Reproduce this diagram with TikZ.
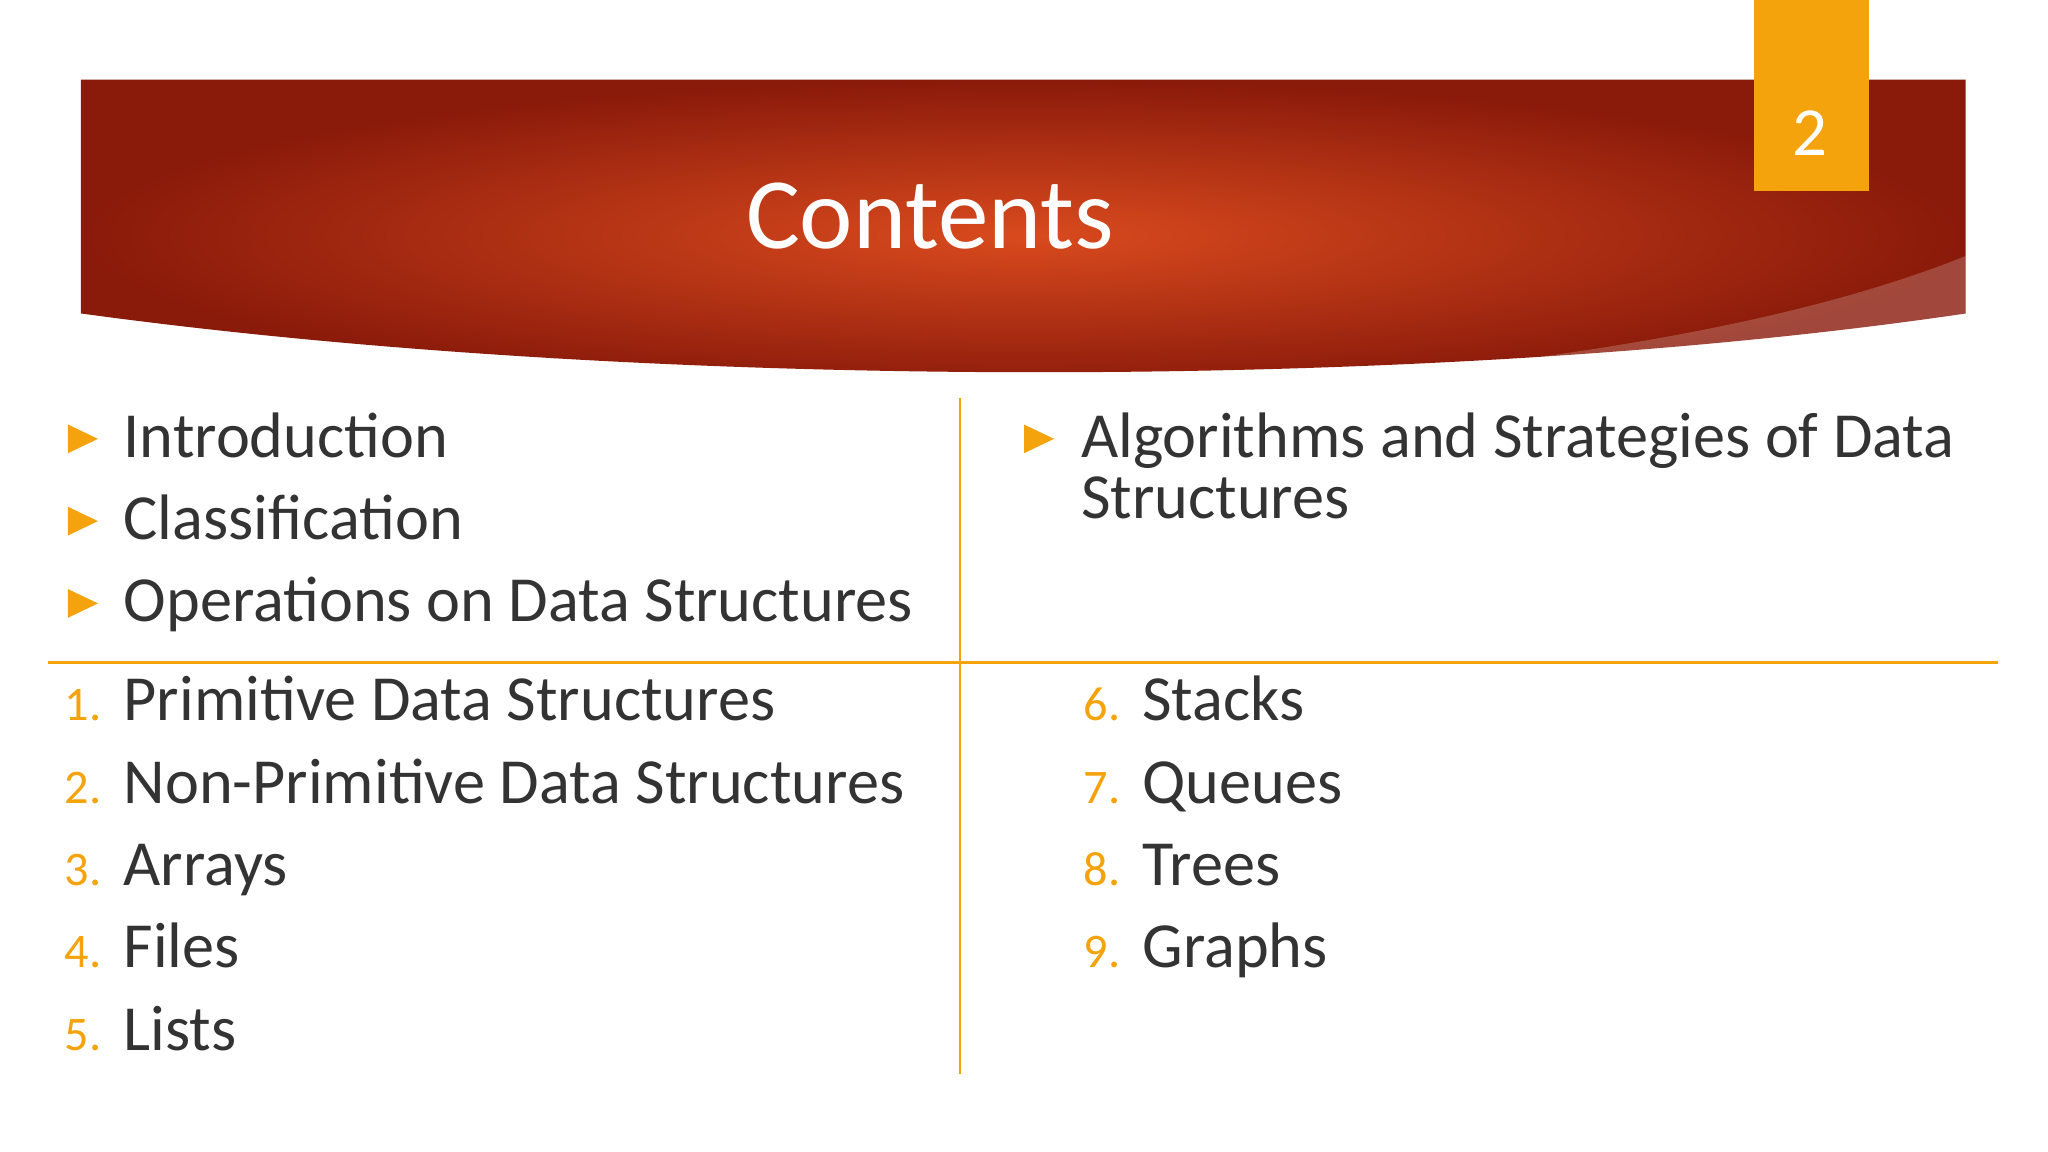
\documentclass[tikz,border=0pt]{standalone}
\usepackage{fontspec}
\setmainfont{Carlito}
\usetikzlibrary{positioning}
\definecolor{gold}{HTML}{F4A30C}
\definecolor{darkred}{HTML}{8A1A0A}
\definecolor{midred}{HTML}{D94A1E}
\definecolor{txt}{HTML}{333333}
\tikzset{
	bullet/.style = {gold, fill=gold},
	item/.style   = {anchor=base west, inner sep=0pt, font=\fontsize{14}{16}\selectfont, text=txt},
	num/.style    = {anchor=base west, inner sep=0pt, font=\fontsize{10.5}{12}\selectfont, text=gold},
	rule/.style   = {gold, line width=0.6pt}
}
\newcommand{\tri}[1]{\fill[bullet] (#1) ++(-11,-11) -- ++(23,11) -- ++(-23,11) -- cycle;}

\begin{document}
\begin{tikzpicture}[x=0.01cm, y=-0.01cm]
	\useasboundingbox (0,0) rectangle (1568,882);
	\fill[white] (0,0) rectangle (1568,882);
	% banner
	\shade[inner color=midred, outer color=darkred]
		(62,61) -- (1505,61) -- (1505,240) .. controls (1100,300) and (500,300) .. (62,240) -- cycle;
	\fill[white, opacity=0.2] (1505,196) -- (1505,240) .. controls (1400,258) and (1250,275) .. (1110,282) .. controls (1300,260) and (1420,230) .. cycle;
	\node[text=white, anchor=base, font=\fontsize{22}{24}\selectfont] (title) at (712,190) {Contents};
	% page number
	\fill[gold] (1343,0) rectangle (1431,146);
	\node[text=white, anchor=base, font=\fontsize{15}{18}\selectfont] (page) at (1386,119) {2};
	% rules
	\draw[rule] (735,305) -- (735,822);
	\draw[rule] (37,507) -- (1530,507);
	% bullets
	\foreach \y/\t [count=\i] in {336/Introduction, 399/Classification, 462/Operations on Data Structures} {
		\tri{63,\y}
		\node[item] (b\i) at (94,\y+14) {\t};
	}
	\tri{795,336}
	\node[item] (b4) at (827,350) {Algorithms and Strategies of Data};
	\node[item] (b5) at (827,397) {Structures};
	% numbered list
	\foreach \y/\t [count=\i] in {538/Primitive Data Structures, 601/Non-Primitive Data Structures, 664/Arrays, 727/Files, 790/Lists} {
		\node[num] (n\i) at (49,\y+14) {\i.};
		\node[item] (l\i) at (94,\y+14) {\t};
	}
	\foreach \y/\t [count=\i from 6] in {538/Stacks, 601/Queues, 664/Trees, 727/Graphs} {
		\node[num] (n\i) at (829,\y+14) {\i.};
		\node[item] (l\i) at (874,\y+14) {\t};
	}
\end{tikzpicture}
\end{document}
